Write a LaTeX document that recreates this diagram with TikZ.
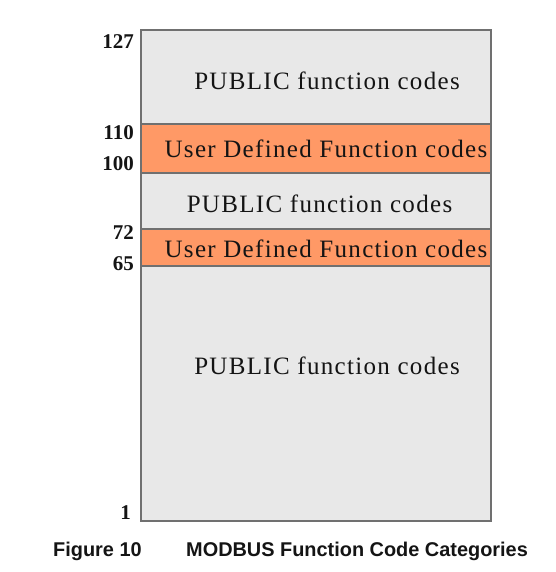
\documentclass[tikz,border=0pt]{standalone}
\usepackage{fontspec}
\setmainfont{Liberation Serif}
\newfontfamily\boxfont[LetterSpace=5.3]{Liberation Serif}
\newfontfamily\capfont{Liberation Sans}
\definecolor{pubgray}{HTML}{E8E8E8}
\definecolor{udorange}{HTML}{FF9966}
\definecolor{edgegray}{HTML}{707070}
\definecolor{txt}{HTML}{141414}
\begin{document}
\begin{tikzpicture}[x=1pt,y=-1pt,
  band/.style={draw=edgegray,line width=1.2pt},
  boxtext/.style={text=txt,font=\boxfont\fontsize{25}{29}\selectfont,inner sep=0pt,anchor=center},
  numlabel/.style={text=txt,font=\bfseries\fontsize{21}{25}\selectfont,inner sep=0pt,anchor=east},
  captext/.style={text=txt,font=\capfont\bfseries\fontsize{19.9}{24}\selectfont,inner sep=0pt,anchor=west}]
\useasboundingbox (0,0) rectangle (555,572);
% main column
\path[band,fill=pubgray] (141,30) rectangle (491,521);
\path[band,fill=udorange] (141,124) rectangle (491,173);
\path[band,fill=udorange] (141,229) rectangle (491,266);
% texts
\node[boxtext] (p1) at (327,81) {PUBLIC function codes};
\node[boxtext] (u1) at (326,149) {User Defined Function codes};
\node[boxtext] (p2) at (319.5,204) {PUBLIC function codes};
\node[boxtext] (u2) at (326,248.5) {User Defined Function codes};
\node[boxtext] (p3) at (327,366) {PUBLIC function codes};
% numbers
\node[numlabel] (n127) at (134,42) {127};
\node[numlabel] (n110) at (134,133) {110};
\node[numlabel] (n100) at (134,164) {100};
\node[numlabel] (n72) at (134,233) {72};
\node[numlabel] (n65) at (134,264) {65};
\node[numlabel] (n1) at (131,513) {1};
% caption
\node[captext] (f10) at (53,551) {Figure 10};
\node[captext] (cap) at (186,551) {MODBUS Function Code Categories};
\end{tikzpicture}
\end{document}
